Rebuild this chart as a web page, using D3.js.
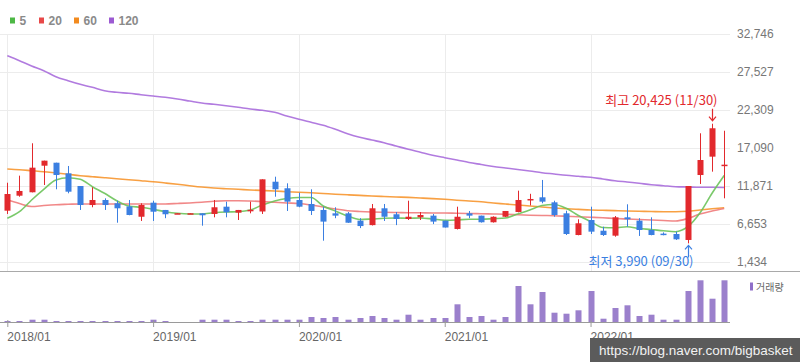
<!DOCTYPE html>
<html>
<head>
<meta charset="utf-8">
<script src="https://cdn.jsdelivr.net/npm/d3@7"></script>
<style>
  body { margin: 0; background: #fff; }
  svg { display: block; font-family: "Liberation Sans", Arial, sans-serif; }
</style>
</head>
<body>
<script>
const WIDTH = 800;
const HEIGHT = 362;
const PLOT_RIGHT = 730;

// monthly candles 2018/01 - 2022/12
var months = [
  '2018/01','2018/02','2018/03','2018/04','2018/05','2018/06','2018/07','2018/08','2018/09','2018/10','2018/11','2018/12',
  '2019/01','2019/02','2019/03','2019/04','2019/05','2019/06','2019/07','2019/08','2019/09','2019/10','2019/11','2019/12',
  '2020/01','2020/02','2020/03','2020/04','2020/05','2020/06','2020/07','2020/08','2020/09','2020/10','2020/11','2020/12',
  '2021/01','2021/02','2021/03','2021/04','2021/05','2021/06','2021/07','2021/08','2021/09','2021/10','2021/11','2021/12',
  '2022/01','2022/02','2022/03','2022/04','2022/05','2022/06','2022/07','2022/08','2022/09','2022/10','2022/11','2022/12'
];

var open = [8480,10540,11010,14660,15070,13610,11870,9260,9950,9500,9070,7650,
  9580,8580,8080,8090,8120,8030,9030,8210,8540,8370,12460,11560,
  9950,9400,8580,8120,8120,7110,6500,8810,7990,7340,7570,7800,
  7110,5970,8120,7800,6890,7650,8300,10000,10320,9630,8120,5140,
  7200,5730,5050,7570,7110,5830,5330,5280,4460,13380,15900,14750];
var high = [12320,13290,17740,15350,15070,14620,11870,11690,10180,9850,9950,9500,
  9850,8580,8150,8160,8120,9950,9720,8580,9720,12790,13150,12240,
  10950,11420,9030,8950,8300,7450,9400,9400,8300,9850,8300,8030,
  7110,9030,8440,7800,7700,8440,11230,10800,12700,9850,8480,7300,
  9030,6280,7750,9360,7450,7570,5500,5600,11870,19110,20425,19460];
var low = [8030,10400,11000,12010,11420,10870,8580,8950,8580,6830,7850,7070,
  7070,7450,8050,8060,6420,7570,7570,7200,8120,8030,10400,8440,
  8950,7890,4360,7450,6800,6090,6450,7070,6500,7200,7200,6640,
  6170,5900,7450,6850,6850,7600,8250,9200,9500,7650,5140,5100,
  5280,5010,4910,6280,5010,5100,5100,4460,3990,12150,13840,10180];
var close = [10770,11190,14390,15350,13380,11090,9260,9950,9260,8810,7890,9260,
  8340,7990,8130,8130,7850,8950,8260,8580,8600,12790,11420,9720,
  9030,8440,6980,7800,6830,6370,8810,7650,7340,7650,7890,6980,
  6170,7650,7800,6890,7650,8440,9950,10090,9720,7890,5280,6750,
  5600,5140,7570,7300,5830,5140,5280,4550,11870,15440,19800,14800];

var volume = [100000,100000,230000,230000,100000,100000,100000,100000,100000,100000,100000,100000,
  230000,100000,0,0,230000,230000,230000,100000,100000,230000,230000,230000,
  230000,500000,400000,500000,230000,400000,600000,400000,230000,730000,230000,400000,
  400000,1770000,500000,600000,230000,500000,3600000,1770000,3000000,930000,830000,1170000,
  3100000,330000,1400000,1670000,600000,730000,230000,230000,3100000,4170000,2330000,4170000];

var ma5 = [7436,8342,9949,11418,12696,13011,12792,11776,10869,9853,9125,8946,
  8672,8342,8122,8026,8026,8205,8301,8342,8576,9263,9812,10155,
  10292,10292,9125,8438,7752,7271,7340,7436,7477,7436,7477,7340,
  7161,7202,7299,7299,7381,7477,8026,8576,9194,9331,8809,7820,
  6996,6172,6145,6282,6035,5898,5719,5596,6282,8164,10869,13314];
var ma20 = [9949,9469,9056,9194,9304,9359,9409,9409,9409,9409,9409,9409,
  9409,9409,9469,9537,9633,9770,9853,9853,9812,9743,9633,9537,
  9469,9263,8988,8713,8480,8370,8301,8260,8232,8205,8191,8164,
  8164,8122,8095,8067,8026,7985,7916,7861,7820,7793,7724,7642,
  7573,7504,7408,7340,7271,7202,7134,7065,7408,8026,8438,8781];
var ma60 = [14206,14110,13973,13835,13657,13478,13286,13148,13011,12874,12736,12599,
  12461,12284,12105,11913,11734,11597,11501,11418,11322,11254,11185,11089,
  11006,10938,10842,10745,10663,10581,10498,10430,10361,10306,10224,10141,
  10045,9922,9812,9702,9537,9400,9263,9125,8988,8850,8740,8658,
  8576,8535,8493,8438,8397,8370,8342,8342,8397,8576,8740,8892];
var ma120 = [29766,29079,28351,27706,26882,26332,25838,25426,24959,24739,24602,24410,
  24231,24053,23819,23545,23270,23091,22899,22680,22446,22267,21993,21485,
  21031,20620,20208,19658,19054,18560,18189,17818,17365,16912,16500,16088,
  15758,15442,15099,14824,14550,14344,14138,13932,13698,13520,13341,13204,
  13066,12833,12599,12421,12242,12050,11913,11776,11734,11693,11693,11666];

var priceTicks = [1434,6653,11871,17090,22309,27527,32746];
var yearTicks = ['2018/01','2019/01','2020/01','2021/01','2022/01'];
var maLabels = ['5','20','60','120'];

var UP = '#e2292d';
var DOWN = '#3b7fe1';
var maColors = ['#6cc35a','#f07b7b','#f7962f','#a86ddc'];
var legendColors = ['#4db845','#e84848','#f28a1e','#9c5ad2'];

var translate = function(x, y){
  return 'translate(' + x + ',' + y + ')';
};

var xScale = d3.scalePoint()
  .domain(months)
  .range([7.3, 724.2]);

var yScale = d3.scaleLinear()
  .domain([1434, 32746])
  .range([262, 34]);

var volScale = d3.scaleLinear()
  .domain([0, 4600000])
  .range([322, 276]);

var svg = d3.select('body')
  .append('svg')
  .attr('width', WIDTH)
  .attr('height', HEIGHT);

// grid
svg.append('g')
  .selectAll('line')
  .data(priceTicks)
  .enter()
  .append('line')
  .attr('x1', 0).attr('x2', PLOT_RIGHT)
  .attr('y1', function(d){ return yScale(d) + 0.5; })
  .attr('y2', function(d){ return yScale(d) + 0.5; })
  .attr('stroke', '#ececec');

svg.append('g')
  .selectAll('line')
  .data(yearTicks)
  .enter()
  .append('line')
  .attr('x1', function(d){ return Math.round(xScale(d)) + 0.5; })
  .attr('x2', function(d){ return Math.round(xScale(d)) + 0.5; })
  .attr('y1', 34).attr('y2', 271)
  .attr('stroke', '#ececec');

// y axis labels
var yAxis = d3.axisRight(yScale)
  .tickValues(priceTicks)
  .tickFormat(d3.format(','))
  .tickSize(0)
  .tickPadding(0);

var yg = svg.append('g')
  .attr('transform', translate(737, 0))
  .call(yAxis);
yg.select('.domain').remove();
yg.selectAll('text')
  .attr('fill', '#777')
  .style('font-size', '12px')
  .style('font-family', '"Liberation Sans", Arial, sans-serif');

// panel separator
svg.append('line')
  .attr('x1', 0).attr('x2', WIDTH)
  .attr('y1', 271.5).attr('y2', 271.5)
  .attr('stroke', '#a9a9a9');

// moving averages
var line = d3.line()
  .x(function(d, i){ return xScale(months[i]); })
  .y(function(d){ return yScale(d); })
  .curve(d3.curveMonotoneX);

[ma60, ma20, ma120, ma5].forEach(function(series){
  var idx = [ma5, ma20, ma60, ma120].indexOf(series);
  svg.append('path')
    .attr('d', line(series))
    .attr('fill', 'none')
    .attr('stroke', maColors[idx])
    .attr('stroke-width', 1.6)
    .attr('stroke-opacity', 0.9);
});

// candles
var candles = months.map(function(m, i){
  return {m: m, o: open[i], h: high[i], l: low[i], c: close[i]};
});

var cg = svg.append('g')
  .selectAll('g')
  .data(candles)
  .enter()
  .append('g');

cg.append('line')
  .attr('x1', function(d){ return Math.round(xScale(d.m)) + 0.5; })
  .attr('x2', function(d){ return Math.round(xScale(d.m)) + 0.5; })
  .attr('y1', function(d){ return yScale(d.h); })
  .attr('y2', function(d){ return yScale(d.l); })
  .attr('stroke', function(d){ return d.c >= d.o ? UP : DOWN; });

cg.append('rect')
  .attr('x', function(d){ return Math.round(xScale(d.m)) - 2.5; })
  .attr('width', 6)
  .attr('y', function(d){ return yScale(Math.max(d.o, d.c)); })
  .attr('height', function(d){ return Math.max(1.5, Math.abs(yScale(d.o) - yScale(d.c))); })
  .attr('fill', function(d){ return d.c >= d.o ? UP : DOWN; });

// high / low markers
var hiIdx = high.indexOf(d3.max(high));
var loIdx = low.indexOf(d3.min(low));
var hx = Math.round(xScale(months[hiIdx])) + 0.5;
var hy = yScale(high[hiIdx]);
var lx = Math.round(xScale(months[loIdx])) + 0.5;
var ly = yScale(low[loIdx]);

svg.append('path')
  .attr('d', 'M' + hx + ',' + (hy - 15) + 'V' + (hy - 3) + 'M' + (hx - 3.5) + ',' + (hy - 7) + 'L' + hx + ',' + (hy - 3) + 'L' + (hx + 3.5) + ',' + (hy - 7))
  .attr('fill', 'none').attr('stroke', UP).attr('stroke-width', 1.2);
svg.append('text')
  .attr('x', hx + 5).attr('y', hy - 19)
  .attr('text-anchor', 'end')
  .attr('fill', UP)
  .style('font-size', '13px')
  .style('font-family', '"Noto Sans CJK KR", sans-serif')
  .text('최고 ' + d3.format(',')(high[hiIdx]) + ' (11/30)');

svg.append('path')
  .attr('d', 'M' + lx + ',' + (ly + 14) + 'V' + (ly + 2) + 'M' + (lx - 3.5) + ',' + (ly + 6) + 'L' + lx + ',' + (ly + 2) + 'L' + (lx + 3.5) + ',' + (ly + 6))
  .attr('fill', 'none').attr('stroke', DOWN).attr('stroke-width', 1.2);
svg.append('text')
  .attr('x', lx + 5).attr('y', ly + 23)
  .attr('text-anchor', 'end')
  .attr('fill', DOWN)
  .style('font-size', '13px')
  .style('font-family', '"Noto Sans CJK KR", sans-serif')
  .text('최저 ' + d3.format(',')(low[loIdx]) + ' (09/30)');

// volume
svg.append('g')
  .selectAll('rect')
  .data(volume)
  .enter()
  .append('rect')
  .attr('x', function(d, i){ return Math.round(xScale(months[i])) - 2.5; })
  .attr('width', 6)
  .attr('y', function(d){ return volScale(d); })
  .attr('height', function(d){ return 322 - volScale(d); })
  .attr('fill', '#9b80cc');

var xAxis = d3.axisBottom(xScale)
  .tickValues(yearTicks)
  .tickSize(5)
  .tickSizeOuter(0);

var xg = svg.append('g')
  .attr('transform', translate(0, 322))
  .call(xAxis);
xg.select('.domain')
  .attr('d', 'M0,0.5H' + PLOT_RIGHT)
  .attr('stroke', '#9a9a9a');
xg.selectAll('.tick line').attr('stroke', '#9a9a9a').attr('y1', -2);
xg.selectAll('.tick text')
  .attr('text-anchor', 'start')
  .attr('dx', -0.5)
  .attr('y', 10)
  .attr('fill', '#666')
  .style('font-size', '12px')
  .style('font-family', '"Liberation Sans", Arial, sans-serif');

svg.append('rect')
  .attr('x', 750).attr('y', 282.5).attr('width', 3).attr('height', 8)
  .attr('fill', '#8f6fc9');
svg.append('text')
  .attr('x', 756).attr('y', 291)
  .attr('fill', '#666')
  .style('font-size', '10px')
  .style('font-family', '"Noto Sans CJK KR", sans-serif')
  .text('거래량');

// legend
var lg = svg.append('g')
  .selectAll('g')
  .data(maLabels)
  .enter()
  .append('g')
  .attr('transform', function(d, i){ return translate([10, 39, 74, 109][i], 0); });
lg.append('rect')
  .attr('y', 17.5).attr('width', 5).attr('height', 6)
  .attr('fill', function(d, i){ return legendColors[i]; });
lg.append('text')
  .attr('x', 9.5).attr('y', 24.5)
  .attr('fill', '#8a8a8a')
  .style('font-size', '12px')
  .style('font-weight', 'bold')
  .text(function(d){ return d; });

// watermark
svg.append('rect')
  .attr('x', 590).attr('y', 338).attr('width', 210).attr('height', 24)
  .attr('fill', '#5b5b5b');
svg.append('text')
  .attr('x', 599).attr('y', 355)
  .attr('fill', '#f2f2f2')
  .style('font-size', '13.5px')
  .text('https://blog.naver.com/bigbasket');
</script>
</body>
</html>
